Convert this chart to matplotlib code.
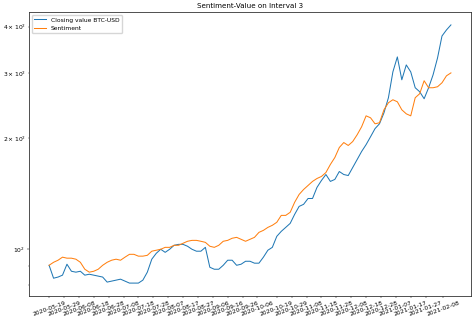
import matplotlib
matplotlib.use("Agg")
import matplotlib.pyplot as plt
import pandas as pd

# Sampled every 3 days starting 2020-05-19
start_date = "2020-05-19"
step_days = 3

btc_close = [
    90.5, 83.5, 84.1, 85.1, 91.1, 87.2, 86.7, 87.2, 85.1, 85.6,
    85.1, 84.6, 84.1, 81.5, 82.0, 82.5, 83.0, 82.0, 81.0, 81.0,
    81.0, 82.5, 86.7, 94.0, 97.5, 100.0, 98.1, 100.0, 102.5, 103.1,
    103.1, 101.9, 100.0, 98.8, 98.8, 101.2, 89.4, 88.3, 88.3, 90.5,
    93.4, 93.4, 90.5, 91.1, 92.8, 92.8, 91.7, 91.7, 95.2, 99.4,
    101.2, 108.4, 111.8, 114.6, 117.5, 124.3, 130.6, 132.3, 137.2, 137.2,
    147.0, 153.5, 159.3, 152.6, 154.5, 162.3, 159.3, 158.3, 166.4, 174.9,
    183.9, 191.9, 201.6, 212.0, 218.5, 233.9, 257.0, 301.9, 331.4, 287.4,
    315.3, 301.9, 273.5, 266.8, 255.4, 273.5, 296.4, 329.3, 377.6, 392.0,
    404.5,
]

sentiment = [
    90.5, 92.2, 93.4, 95.2, 94.6, 94.6, 94.0, 92.2, 88.3, 86.7,
    87.2, 88.3, 90.5, 92.2, 93.4, 94.0, 93.4, 95.2, 96.9, 96.9,
    95.8, 95.8, 96.3, 98.8, 99.4, 100.0, 101.2, 101.2, 102.5, 102.5,
    103.8, 105.1, 105.7, 105.7, 105.1, 104.4, 101.9, 101.2, 102.5, 105.1,
    105.7, 107.1, 107.7, 106.4, 105.1, 106.4, 107.7, 111.1, 112.5, 114.6,
    116.1, 118.3, 123.5, 123.5, 125.9, 134.0, 140.7, 145.1, 148.8, 152.6,
    155.4, 157.4, 161.3, 169.6, 177.1, 188.5, 194.4, 190.9, 195.6, 204.1,
    214.5, 229.6, 226.8, 218.5, 219.9, 238.4, 249.1, 253.8, 250.6, 238.4,
    232.5, 229.6, 257.0, 263.5, 285.7, 273.5, 273.5, 275.2, 282.1, 294.6,
    300.0,
]

tick_labels = [
    "2020-05-19", "2020-05-29", "2020-06-08", "2020-06-18", "2020-06-28",
    "2020-07-08", "2020-07-18", "2020-07-28", "2020-08-07", "2020-08-17",
    "2020-08-27", "2020-09-06", "2020-09-16", "2020-09-26", "2020-10-06",
    "2020-10-19", "2020-10-29", "2020-11-08", "2020-11-18", "2020-11-28",
    "2020-12-08", "2020-12-18", "2020-12-28", "2021-01-07", "2021-01-17",
    "2021-01-27", "2021-02-08",
]

dates = pd.date_range(start_date, periods=len(btc_close), freq=f"{step_days}D")
tick_dates = pd.to_datetime(tick_labels)

s = 0.43  # overall size factor for text and strokes
plt.rcParams.update({
    "font.size": 10 * s,
    "axes.linewidth": 1.4 * s,
    "axes.edgecolor": "#333333",
    "xtick.major.size": 3.5 * s, "ytick.major.size": 3.5 * s,
    "xtick.minor.size": 2 * s, "ytick.minor.size": 2 * s,
    "xtick.major.width": 0.8 * s, "ytick.major.width": 0.8 * s,
    "xtick.minor.width": 0.6 * s, "ytick.minor.width": 0.6 * s,
    "xtick.major.pad": 3.5 * s, "ytick.major.pad": 3.5 * s,
    "xtick.minor.pad": 3.4 * s, "ytick.minor.pad": 3.4 * s,
    "axes.titlepad": 6 * s,
    "legend.fontsize": 10 * s,
})

fig = plt.figure(figsize=(4.74, 3.23), dpi=100)
ax = fig.add_axes([0.0612, 0.0836, 0.9325, 0.8792])

ax.plot(dates, btc_close, color="C0", lw=1.7 * s, label="Closing value BTC-USD")
ax.plot(dates, sentiment, color="C1", lw=1.7 * s, label="Sentiment")
ax.set_yscale("log")

ax.set_xticks(tick_dates)
ax.set_xticklabels(tick_labels, rotation=20, ha="center")

ax.set_title("Sentiment-Value on Interval 3", fontsize=12 * s)
ax.legend(loc="upper left", fancybox=True)

fig.savefig("out.png", dpi=100)
